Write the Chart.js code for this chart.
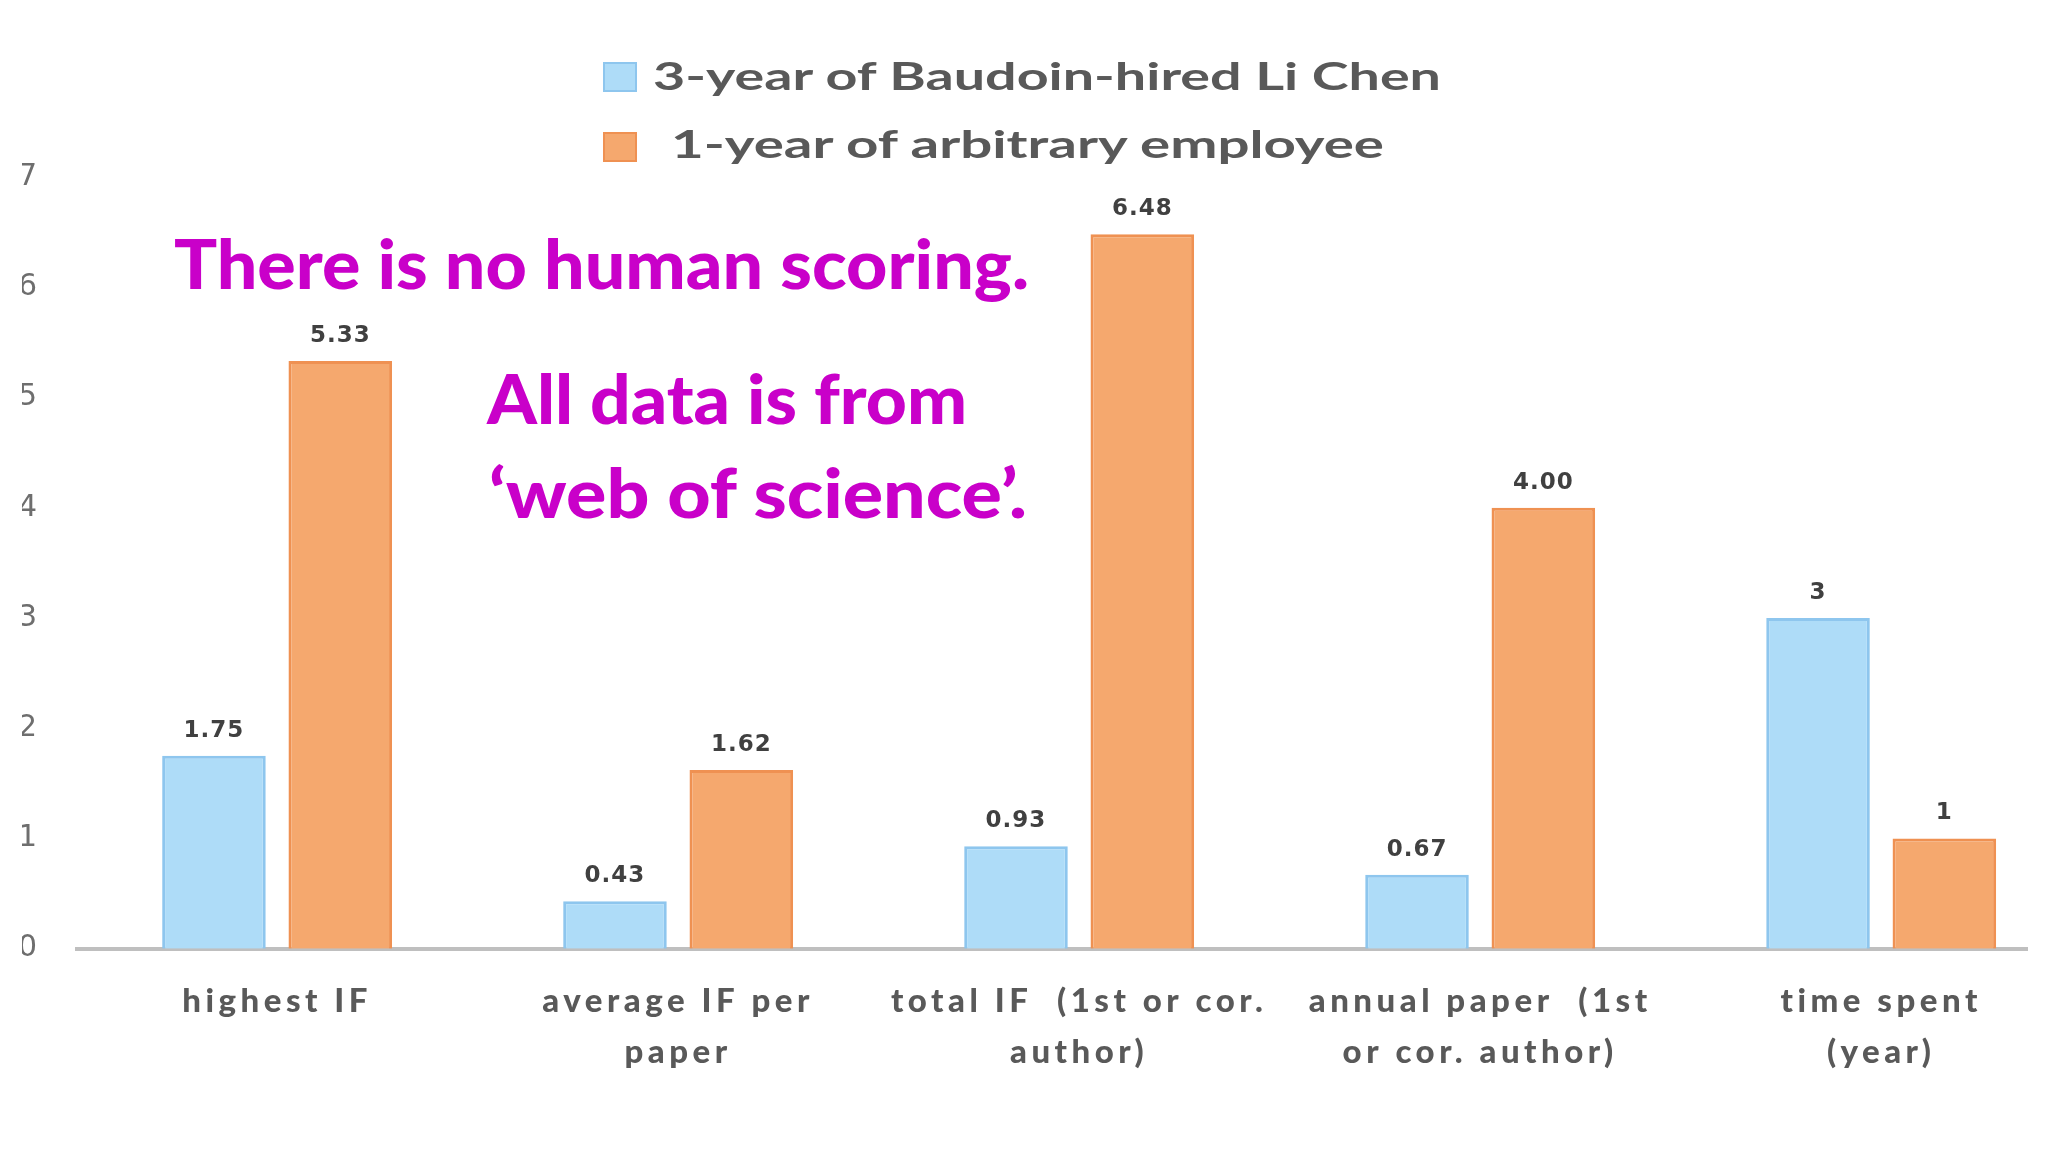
<!DOCTYPE html>
<html>
<head>
<meta charset="utf-8">
<script src="https://cdn.jsdelivr.net/npm/chart.js@4.4.1/dist/chart.umd.min.js"></script>
<style>
  html, body { margin: 0; padding: 0; background: #ffffff; }
  #wrap { position: relative; width: 2048px; height: 1152px; overflow: hidden; background: #fff; }
  #c { position: absolute; left: 0; top: 0; }
  .txt { position: absolute; white-space: pre; transform-origin: 0 0; font-family: Lato, "Open Sans", sans-serif; font-weight: 700; line-height: 1; }
  .legend-text { color: #595959; font-size: 38px; }
  .note { color: #C900C9; font-size: 68px; font-weight: 900; }
  .sw { position: absolute; box-sizing: border-box; }
</style>
</head>
<body>
<div id="wrap">
  <canvas id="c" width="2048" height="1152"></canvas>
</div>
<script>
// ---------------- data ----------------
const categories = [
  ['highest IF'],
  ['average IF per', 'paper'],
  ['total IF  (1st or cor.', 'author)'],
  ['annual paper  (1st', 'or cor. author)'],
  ['time spent', '(year)']
];
const seriesNames = ['3-year of Baudoin-hired Li Chen', '1-year of arbitrary employee'];
const chenValues = [1.75, 0.43, 0.93, 0.67, 3];
const employeeValues = [5.33, 1.62, 6.48, 4.00, 1];
const chenValueLabels = ['1.75', '0.43', '0.93', '0.67', '3'];
const employeeValueLabels = ['5.33', '1.62', '6.48', '4.00', '1'];
const yMin = 0, yMax = 7, yStep = 1;
const notes = ['There is no human scoring.', 'All data is from', '\u2018web of science\u2019.'];

// ---------------- styles ----------------
const blueFill = '#AEDCF8', blueEdge = '#8EC6EE';
const orangeFill = '#F5A86E', orangeEdge = '#EF9152';

const valueLabelSets = [chenValueLabels, employeeValueLabels];

const valueLabelPlugin = {
  id: 'valueLabels',
  beforeDraw(chart) {
    chart.ctx.letterSpacing = '4.5px';
  },
  afterDatasetsDraw(chart) {
    const ctx = chart.ctx;
    ctx.save();
    ctx.letterSpacing = '1px';
    ctx.font = 'bold 23px "DejaVu Sans", Verdana, sans-serif';
    ctx.fillStyle = '#404040';
    ctx.textAlign = 'center';
    ctx.textBaseline = 'alphabetic';
    chart.data.datasets.forEach((ds, di) => {
      const meta = chart.getDatasetMeta(di);
      meta.data.forEach((bar, i) => {
        ctx.fillText(valueLabelSets[di][i], bar.x, bar.y - 19);
      });
    });
    ctx.restore();
  }
};

const chart = new Chart(document.getElementById('c'), {
  type: 'bar',
  data: {
    datasets: [
      {
        label: seriesNames[0],
        data: chenValues.map((v, i) => ({ x: i, y: v })),
        backgroundColor: blueFill,
        borderColor: blueEdge,
        borderWidth: 3,
        categoryPercentage: 0.63,
        barPercentage: 0.82
      },
      {
        label: seriesNames[1],
        data: employeeValues.map((v, i) => ({ x: i, y: v })),
        backgroundColor: orangeFill,
        borderColor: orangeEdge,
        borderWidth: 3,
        categoryPercentage: 0.63,
        barPercentage: 0.82
      }
    ]
  },
  options: {
    responsive: false,
    animation: false,
    layout: { padding: { left: 22, right: 21, top: 177, bottom: 47 } },
    plugins: { legend: { display: false }, tooltip: { enabled: false } },
    scales: {
      x: {
        type: 'linear',
        offset: false,
        min: -0.5,
        max: 4.3636,
        grid: { display: false, drawTicks: false, offset: false },
        border: { display: true, color: '#BFBFBF', width: 4 },
        afterBuildTicks: (scale) => { scale.ticks = categories.map((_, i) => ({ value: i })); },
        afterFit: (scale) => { scale.paddingLeft = 0; scale.paddingRight = 0; },
        ticks: {
          autoSkip: false,
          maxRotation: 0,
          minRotation: 0,
          padding: 27,
          color: '#595959',
          font: { family: 'Lato', size: 33, weight: '900', lineHeight: 1.55 },
          callback: (v) => categories[v]
        }
      },
      y: {
        min: yMin,
        max: yMax,
        grid: { display: false, drawTicks: false },
        border: { display: false },
        afterFit: (scale) => { scale.width = 54.6; },
        ticks: {
          stepSize: yStep,
          padding: 35,
          color: '#6E6E6E',
          font: { family: 'DejaVu Sans', size: 30, weight: 'normal' }
        }
      }
    }
  },
  plugins: [valueLabelPlugin]
});

// ---------------- HTML legend and notes ----------------
const wrap = document.getElementById('wrap');

function placeText(el, left, baseline, width) {
  wrap.appendChild(el);
  el.style.left = left + 'px';
  el.style.top = '0px';
  const probe = document.createElement('span');
  probe.style.display = 'inline-block';
  probe.style.width = '0px';
  probe.style.height = '0px';
  probe.style.verticalAlign = 'baseline';
  el.appendChild(probe);
  const er = el.getBoundingClientRect();
  const pr = probe.getBoundingClientRect();
  el.removeChild(probe);
  const w = el.getBoundingClientRect().width;
  el.style.top = (baseline - (pr.top - er.top)) + 'px';
  el.style.transform = 'scaleX(' + (width / w) + ')';
}

const legendLayout = [
  { sx: 603, sy: 62, textX: 653, base: 89.5, width: 788 },
  { sx: 603, sy: 132, textX: 671, base: 158, width: 713 }
];
const legendColors = [[blueFill, blueEdge], [orangeFill, orangeEdge]];

chart.data.datasets.forEach((ds, i) => {
  const L = legendLayout[i];
  const sw = document.createElement('div');
  sw.className = 'sw';
  sw.style.left = L.sx + 'px';
  sw.style.top = L.sy + 'px';
  sw.style.width = '34px';
  sw.style.height = '30px';
  sw.style.background = legendColors[i][0];
  sw.style.border = '2px solid ' + legendColors[i][1];
  wrap.appendChild(sw);
  const t = document.createElement('div');
  t.className = 'txt legend-text';
  t.textContent = ds.label;
  placeText(t, L.textX, L.base, L.width);
});

const noteLayout = [
  { x: 174, base: 289, width: 855 },
  { x: 487, base: 424, width: 480 },
  { x: 489, base: 518, width: 538 }
];
notes.forEach((s, i) => {
  const t = document.createElement('div');
  t.className = 'txt note';
  t.textContent = s;
  placeText(t, noteLayout[i].x, noteLayout[i].base, noteLayout[i].width);
});
</script>
</body>
</html>
